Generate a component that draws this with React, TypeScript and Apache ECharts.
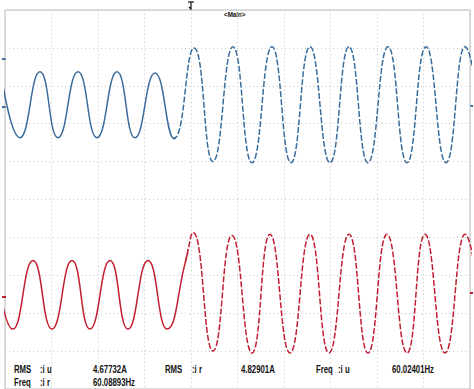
import React, { useEffect, useRef } from "react";
import * as echarts from "echarts";

// Time axis in ms (20 ms / division), vertical axis in divisions (0 = bottom, 10 = top)
const X_MIN = 0;
const X_MAX = 200;
const X_DIV = 20;
const Y_MIN = 0;
const Y_MAX = 10;

// Channel i_u (blue): peaks and troughs
const blueTimes = [-1.8, 6.45, 15.05, 22.8, 31.4, 39.57, 48.17, 55.91, 64.52, 72.69, 81.29, 89.46, 98.06, 106.24, 114.84, 123.01, 131.18, 139.78, 147.96, 156.13, 164.73, 172.9, 181.08, 189.68, 197.85, 206.02];
const blueValues = [8.37, 6.63, 8.37, 6.63, 8.37, 6.63, 8.37, 6.63, 8.34, 6.61, 9.0, 6.0, 9.03, 5.97, 9.03, 5.97, 9.03, 5.97, 9.03, 5.97, 9.03, 5.97, 9.03, 5.97, 9.03, 5.97];

// Channel i_r (red)
const redTimes = [-4.3, 3.44, 12.04, 20.22, 28.82, 36.56, 45.16, 52.9, 61.51, 69.68, 77.85, 80.86, 89.46, 97.63, 106.24, 113.98, 122.58, 131.18, 139.35, 147.96, 156.13, 164.3, 172.9, 180.65, 189.25, 197.85, 206.02];
const redValues = [3.39, 1.58, 3.39, 1.58, 3.39, 1.58, 3.39, 1.58, 3.39, 1.58, 3.42, 4.13, 1.0, 4.05, 0.95, 4.08, 0.95, 4.08, 0.95, 4.08, 0.95, 4.08, 0.95, 4.08, 0.95, 4.08, 0.95];

// Times where the traces change from the small-amplitude to the large-amplitude state
const BLUE_SWITCH = 72.7;
const RED_SWITCH = 77.9;

// Measurement readout
const row1Labels = ["RMS", ":i u", "4.67732A", "RMS", ":i r", "4.82901A", "Freq", ":i u", "60.02401Hz"];
const row2Labels = ["Freq", ":i r", "60.08893Hz"];

const BLUE = "#3b6d9c";
const RED = "#c21e30";

export default function App() {
  const ref = useRef<HTMLDivElement>(null);

  useEffect(() => {
    if (!ref.current) return;
    const chart = echarts.init(ref.current, null, { renderer: "svg" });

    const gLeft = 5;
    const gTop = 10;
    const gWidth = 465;
    const gHeight = 380;
    const pxPerMs = gWidth / (X_MAX - X_MIN);

    const bSplit = (BLUE_SWITCH - X_MIN) * pxPerMs;
    const rSplit = (RED_SWITCH - X_MIN) * pxPerMs;

    const grids = [
      { left: gLeft, top: gTop, width: gWidth, height: gHeight, show: true, borderColor: "#b8b8b8", borderWidth: 1, backgroundColor: "#fff" },
      { left: gLeft, top: gTop, width: bSplit, height: gHeight },
      { left: gLeft + bSplit, top: gTop, width: gWidth - bSplit, height: gHeight },
      { left: gLeft, top: gTop, width: rSplit, height: gHeight },
      { left: gLeft + rSplit, top: gTop, width: gWidth - rSplit, height: gHeight },
    ];
    const xRanges = [
      [X_MIN, X_MAX],
      [X_MIN, BLUE_SWITCH],
      [BLUE_SWITCH, X_MAX],
      [X_MIN, RED_SWITCH],
      [RED_SWITCH, X_MAX],
    ];

    const hidden = { axisLine: { show: false }, axisTick: { show: false }, axisLabel: { show: false } };
    const dotted = { show: true, lineStyle: { color: "#c8c8c8", type: [1, 3], width: 1 } };

    const xAxes = xRanges.map((r, i) => ({
      type: "value",
      gridIndex: i,
      min: r[0],
      max: r[1],
      ...(i === 0 ? { interval: X_DIV } : {}),
      ...hidden,
      splitLine: i === 0 ? dotted : { show: false },
    }));
    const yAxes = xRanges.map((_, i) => ({
      type: "value",
      gridIndex: i,
      min: Y_MIN,
      max: Y_MAX,
      ...(i === 0 ? { interval: 1 } : {}),
      ...hidden,
      splitLine: i === 0 ? dotted : { show: false },
    }));

    const blueData = blueTimes.map((t, i) => [t, blueValues[i]]);
    const redData = redTimes.map((t, i) => [t, redValues[i]]);

    const mk = (data: number[][], idx: number, color: string, dashed: boolean) => ({
      type: "line",
      xAxisIndex: idx,
      yAxisIndex: idx,
      data,
      smooth: 0.5,
      symbol: "none",
      clip: true,
      silent: true,
      lineStyle: { color, width: 1.5, type: dashed ? [6, 2] : "solid" },
    });

    const label = (x: number, y: number, text: string, size = 10) => ({
      type: "text",
      x,
      y,
      scaleX: 0.78,
      style: {
        text,
        fill: "#111",
        fontSize: size,
        fontWeight: "bold",
        fontFamily: "'Liberation Sans', Arial, sans-serif",
        verticalAlign: "middle",
        align: "left",
      },
    });

    const row1X = [14, 40, 93, 165, 192, 241, 316, 338, 392];
    const row2X = [14, 40, 93];

    const graphic: any[] = [
      ...row1Labels.map((t, i) => label(row1X[i], 370, t)),
      ...row2Labels.map((t, i) => label(row2X[i], 383, t)),
      label(224, 15, "<Main>", 8),
      { type: "polyline", shape: { points: [[188, 2], [194, 2]] }, style: { stroke: "#111", lineWidth: 1.2 } },
      { type: "polyline", shape: { points: [[191, 2], [191, 9], [189, 7]] }, style: { stroke: "#111", lineWidth: 1.2, fill: "none" } },
      { type: "rect", shape: { x: 2, y: 58, width: 4, height: 2 }, style: { fill: BLUE } },
      { type: "rect", shape: { x: 2, y: 106, width: 4, height: 2 }, style: { fill: BLUE } },
      { type: "rect", shape: { x: 2, y: 296, width: 4, height: 2 }, style: { fill: RED } },
      { type: "rect", shape: { x: 470, y: 105, width: 3, height: 2 }, style: { fill: BLUE } },
      { type: "rect", shape: { x: 470, y: 292, width: 3, height: 2 }, style: { fill: RED } },
    ];

    chart.setOption({
      animation: false,
      backgroundColor: "#fff",
      grid: grids,
      xAxis: xAxes,
      yAxis: yAxes,
      series: [
        mk(blueData, 1, BLUE, false),
        mk(blueData, 2, BLUE, true),
        mk(redData, 3, RED, false),
        mk(redData, 4, RED, true),
      ],
      graphic,
    });

    return () => chart.dispose();
  }, []);

  return <div ref={ref} style={{ position: "fixed", left: 0, top: 0, width: 474, height: 389 }} />;
}
